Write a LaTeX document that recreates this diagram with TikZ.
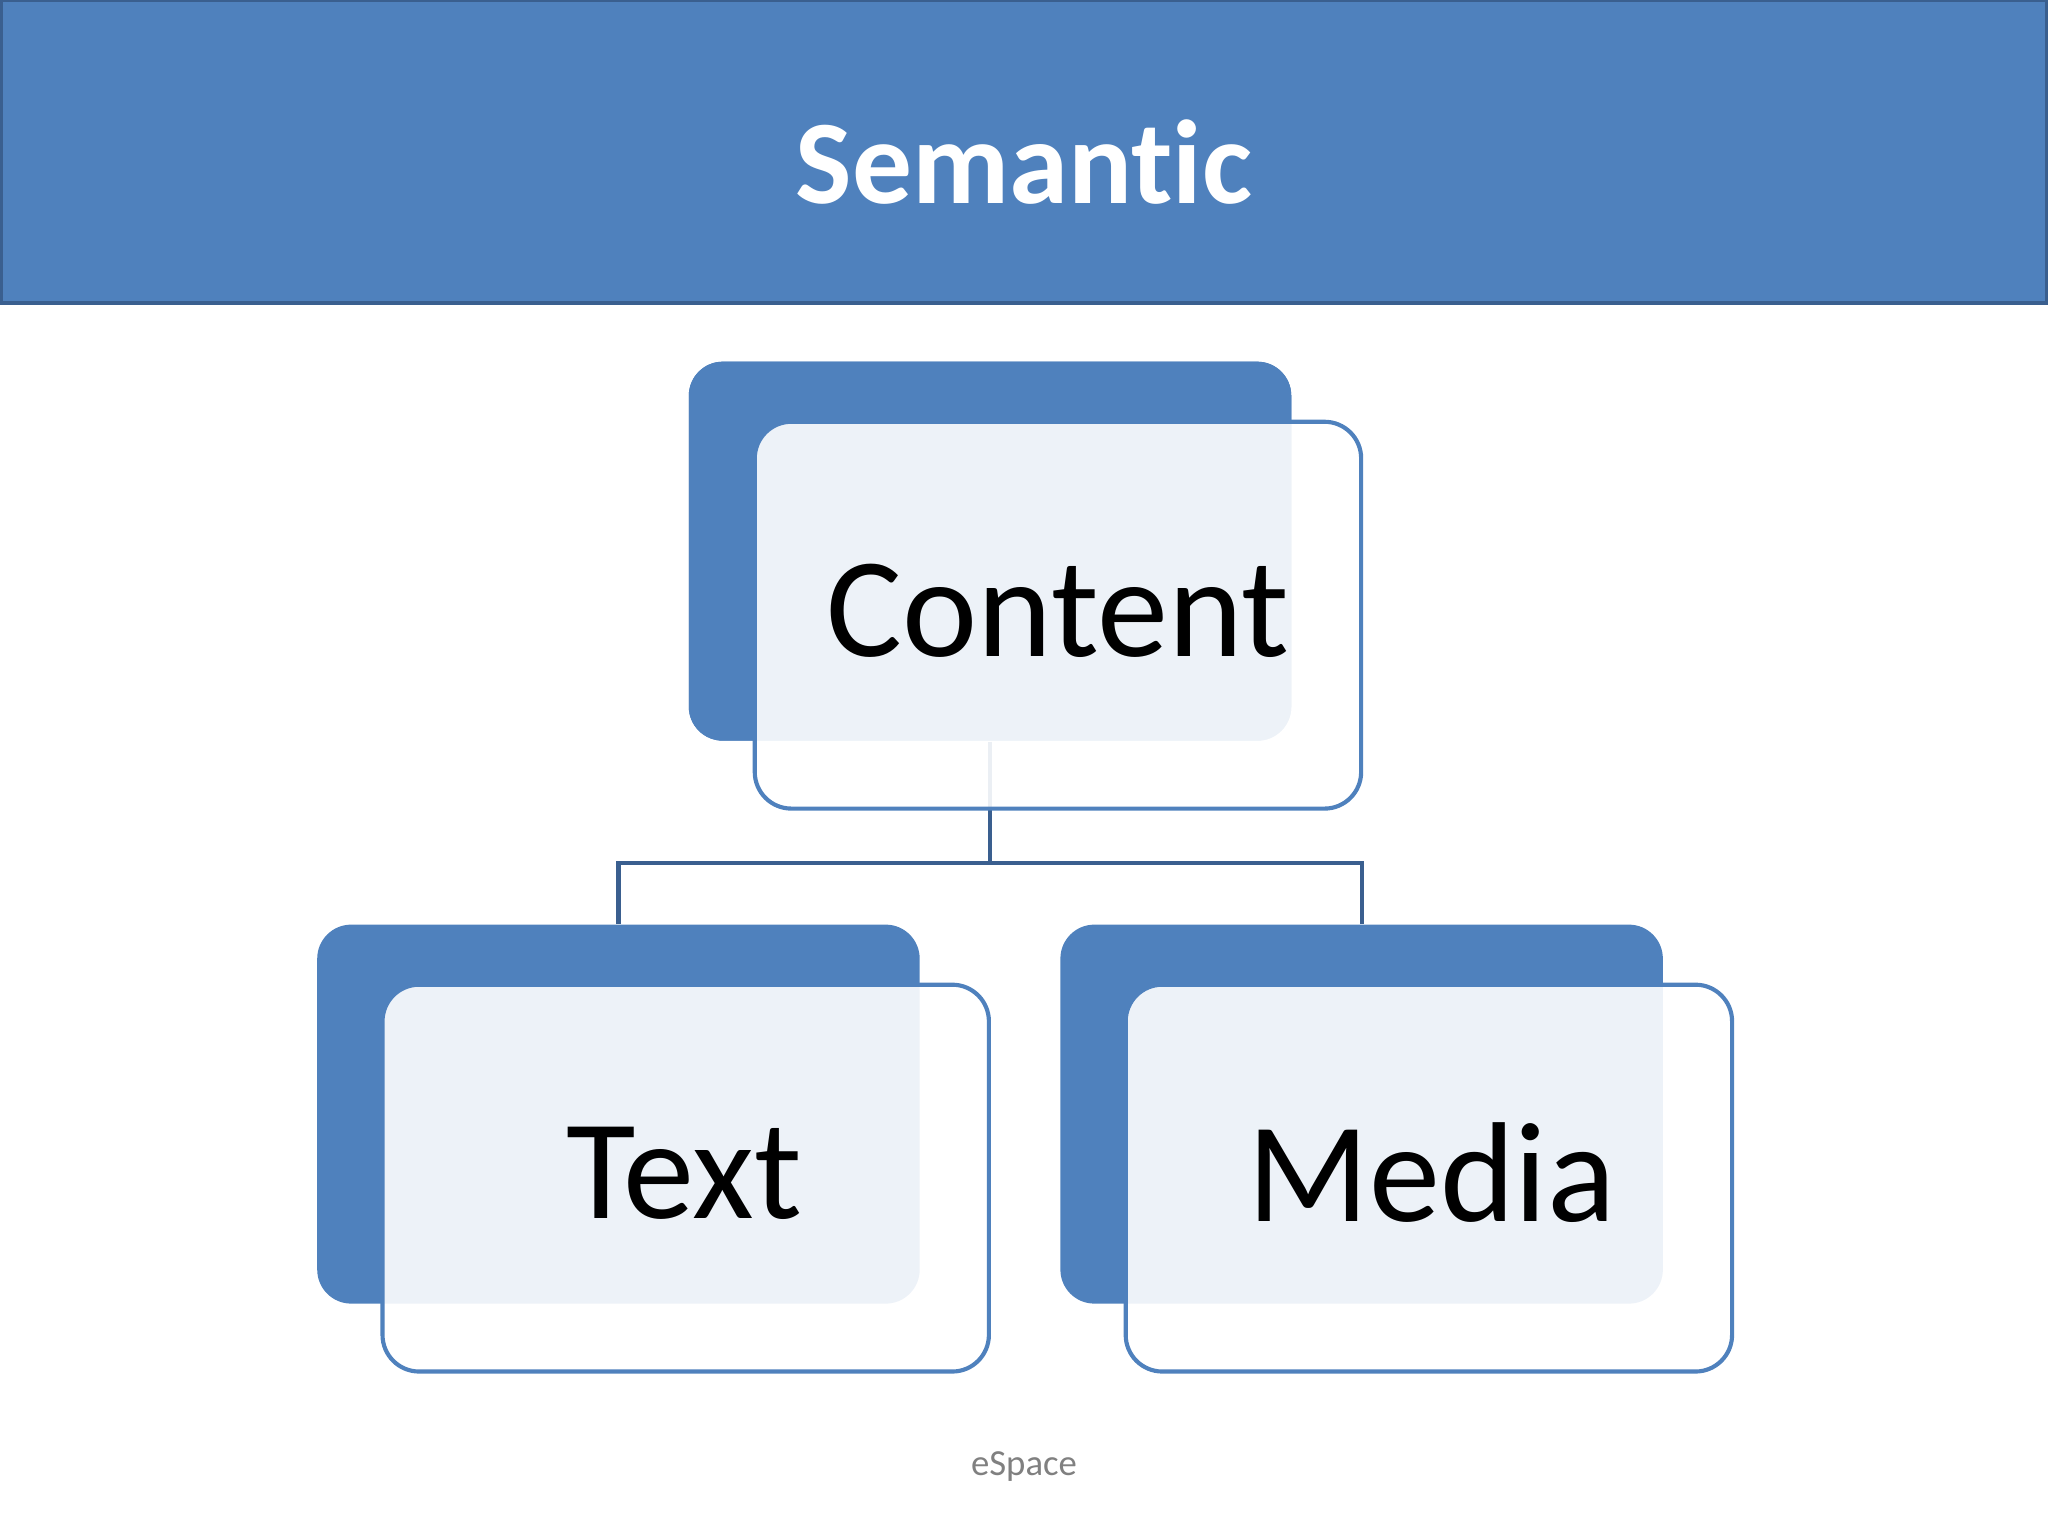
\documentclass[tikz,border=0pt]{standalone}
\usepackage{fontspec}
\setmainfont{Carlito}[Ligatures={NoCommon,NoRare}]
\begin{document}
\begin{tikzpicture}[x=0.01cm,y=-0.01cm,
  backbox/.style={draw=none,fill=blue1,rounded corners=0.26cm,minimum width=4.61cm,minimum height=2.90cm,inner sep=0},
  frontbox/.style={draw=blue1,line width=0.9pt,fill=white,fill opacity=0.9,text opacity=1,rounded corners=0.28cm,minimum width=4.64cm,minimum height=2.96cm,inner sep=0},
  conn/.style={draw=blue2,line width=0.9pt},
  lbl/.style={font=\fontsize{31}{31}\selectfont}]
\definecolor{blue1}{HTML}{4F81BD}
\definecolor{blue2}{HTML}{3A5F8F}
\useasboundingbox (0,0) rectangle (1568,1176);
\node[draw=blue2,line width=0.9pt,fill=blue1,minimum width=15.66cm,minimum height=2.32cm,inner sep=0] (hdr) at (784,116) {};
\node[text=white,font=\bfseries\fontsize{26}{26}\selectfont] (title) at (784,124) {Semantic};
\node[backbox] (cb) at (758,422) {};
\node[backbox] (tb) at (473.5,853) {};
\node[backbox] (mb) at (1042.5,853) {};
\coordinate (j) at (758,661);
\draw[conn] (cb.south) -- (j);
\draw[conn] (tb.north) |- (j) -| (mb.north);
\node[backbox] at (758,422) {};
\node[frontbox] (cf) at (810,471) {};
\node[frontbox] (tf) at (525,902) {};
\node[frontbox] (mf) at (1094,902) {};
\node[lbl] (ct) at (810,468) {Content};
\node[lbl] (tt) at (524,898) {Text};
\node[lbl] (mt) at (1096,898) {Media};
\node[text=gray,font=\fontsize{8}{8}\selectfont] (foot) at (784,1123) {eSpace};
\end{tikzpicture}
\end{document}
